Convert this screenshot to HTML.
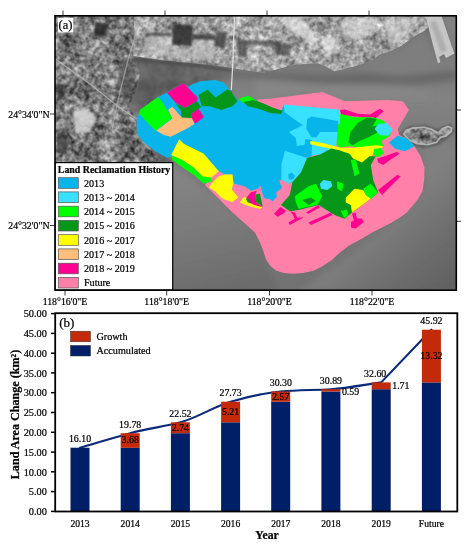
<!DOCTYPE html>
<html><head><meta charset="utf-8"><title>Land Reclamation History</title>
<style>
html,body{margin:0;padding:0;background:#fff;}
svg{display:block;}
text{font-family:"Liberation Serif","Times New Roman",serif;fill:#000;stroke:#000;stroke-width:0.22px;}
.t10{font-size:10.1px;}
.ax{font-size:9.8px;}
.t11{font-size:10.8px;}
.yt{font-size:10.3px;}
.xt{font-size:9.6px;}
.bl{font-size:9.9px;}
.il{font-size:9.9px;}
.lg{font-size:10.2px;}
.t12{font-size:12.5px;}
.b{font-weight:bold;}
</style></head><body>
<svg width="472" height="550" viewBox="0 0 472 550">
<defs>
<clipPath id="mapclip"><rect x="55" y="15.8" width="401.3" height="274.4"/></clipPath>
<filter id="tex" x="0" y="0" width="100%" height="100%" color-interpolation-filters="sRGB">
<feTurbulence type="fractalNoise" baseFrequency="0.05" numOctaves="2" seed="7"/>
<feColorMatrix type="matrix" values="0.6 0 0 0 0  0.6 0 0 0 0  0.6 0 0 0 0  0 0 0 0 1" result="n1"/>
<feTurbulence type="fractalNoise" baseFrequency="0.2" numOctaves="2" seed="21"/>
<feColorMatrix type="matrix" values="0.75 0 0 0 0  0.75 0 0 0 0  0.75 0 0 0 0  0 0 0 0 1" result="n2"/>
<feComposite in="n1" in2="n2" operator="arithmetic" k1="0" k2="1" k3="1" k4="-0.195" result="m"/>
<feComposite in="m" in2="SourceAlpha" operator="in"/>
</filter>
<filter id="texl" x="0" y="0" width="100%" height="100%" color-interpolation-filters="sRGB">
<feTurbulence type="fractalNoise" baseFrequency="0.06" numOctaves="2" seed="11"/>
<feColorMatrix type="matrix" values="0.5 0 0 0 0  0.5 0 0 0 0  0.5 0 0 0 0  0 0 0 0 1" result="n1"/>
<feTurbulence type="fractalNoise" baseFrequency="0.22" numOctaves="2" seed="5"/>
<feColorMatrix type="matrix" values="0.6 0 0 0 0  0.6 0 0 0 0  0.6 0 0 0 0  0 0 0 0 1" result="n2"/>
<feComposite in="n1" in2="n2" operator="arithmetic" k1="0" k2="1" k3="1" k4="0.09" result="m"/>
<feComposite in="m" in2="SourceAlpha" operator="in"/>
</filter>
<filter id="texd" x="0" y="0" width="100%" height="100%" color-interpolation-filters="sRGB">
<feTurbulence type="fractalNoise" baseFrequency="0.05" numOctaves="2" seed="3"/>
<feColorMatrix type="matrix" values="0.2 0 0 0 0  0.2 0 0 0 0  0.2 0 0 0 0  0 0 0 0 1" result="n1"/>
<feTurbulence type="fractalNoise" baseFrequency="0.22" numOctaves="2" seed="9"/>
<feColorMatrix type="matrix" values="0.12 0 0 0 0  0.12 0 0 0 0  0.12 0 0 0 0  0 0 0 0 1" result="n2"/>
<feComposite in="n1" in2="n2" operator="arithmetic" k1="0" k2="1" k3="1" k4="0.23" result="m"/>
<feComposite in="m" in2="SourceAlpha" operator="in"/>
</filter>

<filter id="blur05"><feGaussianBlur stdDeviation="0.5"/></filter>
<filter id="blur1"><feGaussianBlur stdDeviation="1"/></filter>
<filter id="blur3"><feGaussianBlur stdDeviation="3"/></filter>
<linearGradient id="wlr" gradientUnits="userSpaceOnUse" x1="385" y1="215" x2="450" y2="290"><stop offset="0" stop-color="#808080"/><stop offset="0.45" stop-color="#707070"/><stop offset="1" stop-color="#606060"/></linearGradient>
<linearGradient id="wll" gradientUnits="userSpaceOnUse" x1="185" y1="170" x2="215" y2="290"><stop offset="0" stop-color="#858585"/><stop offset="0.5" stop-color="#7a7a7a"/><stop offset="1" stop-color="#6c6c6c"/></linearGradient>
<linearGradient id="water" x1="0" y1="0" x2="0" y2="1">
<stop offset="0" stop-color="#6c6c6c"/><stop offset="0.3" stop-color="#828282"/><stop offset="0.5" stop-color="#7a7a7a"/><stop offset="1" stop-color="#727272"/>
</linearGradient>
</defs>
<rect width="472" height="550" fill="#fff"/>
<!-- ============ (a) map ============ -->
<g clip-path="url(#mapclip)">
<rect x="54" y="15" width="404" height="276" fill="url(#water)"/>
<!-- water tone variations -->
<g filter="url(#blur3)">
<polygon fill="#646464" points="133,57 160,60 200,63 222,67 224,82 215,80 200,81 190,85 183,83 167,92 157,97 140,109 134,112 128,106 135,93 140,74"/>
<polygon fill="#868686" points="255,78 300,80 350,84 400,88 430,92 430,100 400,100 345,100 322,91 270,98 257,99"/>
<polygon fill="#686868" points="200,70 322,75 420,70 456,60 456,80 420,84 322,84 250,78 200,76"/>
<polygon fill="#7e7e7e" points="370,58 400,48 425,32 436,62 456,55 456,70 400,76 360,72"/>
<polygon fill="#828282" points="440,12 460,12 460,56 452,50"/>
<polygon fill="url(#wlr)" points="420,150 460,140 460,294 296,294 340,262 382,232 410,210 426,186"/>
<polygon fill="url(#wll)" points="165,160 215,195 255,235 266,262 280,294 165,294"/>
</g>
<g filter="url(#blur1)"><polygon filter="url(#texd)" fill="#666" points="133,57 160,60 200,63 212,66 214,80 200,82 190,86 183,84 167,93 157,98 140,110 134,113 128,106 135,93 140,74"/></g>
<polygon filter="url(#texd)" fill="#666" points="136,118 137,131 139,137 150,148 168,158 172,162 172,175 150,175 125,165"/>
<!-- left land -->
<polygon filter="url(#tex)" fill="#888" points="54,15 136,15 133.4,55.3 139.8,74.4 135,93.4 128.7,106.2 135,115.7 137,131 139,137 150,148 160,160 120,170 54,170"/>
<!-- top land -->
<polygon filter="url(#texl)" fill="#aaa" points="134,15 426,15 428.5,27 424,31 414.2,36.2 401.4,45.8 388.7,52.1 380.8,53.7 369.7,61.7 353.8,66.4 334.7,71.2 322,64.8 317,63.3 295,64.8 282,68 263,72.8 241,69.6 222,66.4 190,63 160,60 133.4,56"/>
<polygon filter="url(#blur05)" fill="#c6c6c6" points="425.3,15 441.2,15 452,47 454.5,53.5 446,58 444,54 439,57 440.5,62 438,63.3 433.2,45.8"/>
<polygon filter="url(#blur1)" fill="#a4a4a4" opacity=".7" points="430,22 436,21 447,50 441,53"/>
<g filter="url(#blur1)">
<!-- dark patches -->
<rect x="95" y="23" width="11" height="13" fill="#2a2a2a" opacity=".85"/>
<polygon fill="#2c2c2c" opacity=".85" points="173,24 193,25 192,46 172,45"/>
<polygon fill="#3a3a3a" opacity=".8" points="193,34 215,35 215,40 193,39.5"/>
<polygon fill="#444" opacity=".75" points="145,32.5 171,33 171,36.5 145,36"/>
<polygon fill="#3c3c3c" opacity=".8" points="217,31 227,32 224,48 214,46"/>
<polygon fill="#c4c4c4" opacity=".55" points="144,37 170,37 170,57 144,55"/>
<polygon fill="#c8c8c8" opacity=".6" points="194,40.5 214,41 213,61 193,59"/>
<polygon fill="#b8b8b8" opacity=".5" points="172,47 192,48 192,59 172,58"/>
<polygon fill="#4a4a4a" opacity=".7" points="133,57.5 160,60.5 200,64 232,69 232,72 200,68 160,64 134,61"/>
<polygon fill="#3e3e3e" opacity=".7" points="238,40 247,40 247,58 238,57"/>
<polygon fill="#444" opacity=".7" points="247,40 279,41 279,46 247,45"/>
<polygon fill="#444" opacity=".65" points="274,43 290,44 290,56 276,55"/>
<rect x="57" y="84" width="7" height="16" fill="#333" opacity=".7"/>
<rect x="57" y="135" width="10" height="18" fill="#3a3a3a" opacity=".7"/>
<polygon fill="#555" opacity=".6" points="120,60 132,58 136,74 131,92 124,100 118,88"/>
<!-- bright patches -->
<polygon fill="#e0e0e0" opacity=".75" points="73,112 86,108 96,118 90,132 76,134"/>
<polygon fill="#e8e8e8" opacity=".6" points="280,17 300,17 318,40 312,44 290,30"/>
<polygon fill="#e8e8e8" opacity=".55" points="322,38 334,36 338,52 326,56"/>
<polygon fill="#e0e0e0" opacity=".5" points="340,20 380,18 372,34 346,40"/>
<polygon fill="#ddd" opacity=".5" points="384,22 418,18 410,34 390,46"/>
</g>
<polyline fill="none" stroke="#e0e0e0" stroke-width="1.2" points="234.5,15 233,60 231.3,90"/>
<polyline fill="none" stroke="#b8b8b8" stroke-width="1.3" opacity=".8" points="54,58 90,84 120,108 137,119"/>
<polyline fill="none" stroke="#b0b0b0" stroke-width="1.2" opacity=".7" points="140,20 128,60 118,100 112,130"/>
<!-- island -->
<path filter="url(#blur1)" fill="#5e5e5e" d="M400,134 L409,126 L426,125 L437,129 L450,124 L455,131 L447,139 L438,145 L424,148 L410,145 Z"/>
<path filter="url(#blur05)" fill="#b4b4b4" d="M402.5,134 L406,129.5 L413,127 L424,126.5 L432,128.5 L438,132 L442,128 L448,125.5 L452.5,127.5 L452,132 L446,137 L441,138 L437,143 L428,145.5 L417,144.5 L409,141 Z"/>
<path filter="url(#tex)" fill="#888" d="M404.5,134 L407,131 L413.5,128.5 L424,128 L431,130 L436.5,133.5 L442.5,130 L448,127.5 L450.5,128.5 L450,131.5 L445,135.5 L440,136.5 L436,141.5 L428,143.8 L417.5,143 L410,139.8 Z"/>
<polygon fill="#ff80a8" points="257.5,99.5 270.0,98.8 322.5,92.0 345.0,101.2 388.0,100.0 402.8,101.2 409.0,110.0 397.8,128.8 399.0,135.0 407.8,138.8 414.5,146.2 420.5,156.0 424.5,167.5 424.3,178.0 422.5,191.2 417.0,200.5 407.1,212.2 400.0,217.4 390.3,223.3 372.7,232.2 356.8,241.5 349.0,245.6 340.0,252.5 331.2,260.4 322.0,266.5 313.4,270.8 303.0,273.0 292.6,273.8 284.0,273.0 276.3,270.8 270.0,265.5 265.9,258.9 263.0,250.0 260.0,242.6 255.0,232.5 232.5,212.5 210.0,190.0 205.0,185.0 215.0,170.0 250.0,150.0 260.0,120.0"/>
<polygon fill="#08b5ea" points="158.0,97.0 166.4,92.7 183.4,83.0 188.0,87.0 192.0,84.5 200.5,81.2 215.0,80.0 223.8,82.5 231.2,91.2 237.5,100.0 245.0,102.5 257.5,107.5 270.0,112.5 280.0,113.8 283.8,105.0 300.0,110.0 312.0,140.0 312.0,156.0 307.0,158.0 301.0,172.5 292.5,181.4 288.5,183.5 281.4,179.6 279.2,180.4 282.1,187.8 276.2,192.3 276.9,196.7 272.5,201.2 269.5,198.9 264.3,198.2 262.1,192.3 260.6,185.6 258.4,188.5 251.0,190.8 244.3,186.3 233.2,183.4 232.4,174.5 225.0,174.5 218.8,171.2 200.0,165.0 170.7,156.3 167.3,158.0 155.4,151.2 144.4,142.7 138.5,136.0 136.8,130.8 136.8,119.0 140.2,110.5"/>
<polygon fill="#08b5ea" points="389.0,142.5 397.8,135.5 407.8,138.8 414.5,146.2 405.2,151.2 395.2,148.8"/>
<polygon fill="#38e1ff" points="283.8,104.5 340.0,109.7 340.8,123.5 338.2,124.4 336.5,145.1 331.3,148.5 320.1,154.6 311.5,155.4 312.3,139.9 305.4,139.0 304.5,145.1 296.8,146.0 295.9,138.2 289.0,132.1 302.8,125.2 284.7,112.3"/>
<polygon fill="#38e1ff" points="285.0,150.8 307.1,158.0 301.0,172.5 292.5,181.4 288.5,183.5 281.4,179.6 281.5,164.1"/>
<polygon fill="#08b5ea" points="307.1,119.2 311.5,116.6 338.2,120.9 338.2,132.1 320.1,132.1 316.6,137.3 311.5,137.3 306.3,128.7"/>
<polygon fill="#08b5ea" points="288.1,174.0 292.0,172.5 295.0,176.0 293.0,179.6 289.0,179.6"/>
<polygon fill="#06961a" points="198.5,95.0 207.5,89.5 215.5,97.5 227.5,89.2 231.2,91.2 237.5,101.2 232.5,106.2 221.2,110.0 210.0,106.2 201.8,106.2"/>
<polygon fill="#00ff00" points="238.5,99.0 243.0,97.0 248.8,96.0 257.5,101.2 252.0,103.5 244.0,103.5"/>
<polygon fill="#06961a" points="243.5,102.0 253.5,100.0 262.5,103.0 272.5,107.5 282.5,110.8 281.2,113.9 270.0,113.0 258.5,108.8 247.5,106.2"/>
<polygon fill="#00ff00" points="140.2,109.7 157.1,97.8 159.7,98.6 172.4,118.1 155.4,130.8 139.3,113.9"/>
<polygon fill="#ff0090" points="167.0,92.7 183.4,83.0 197.8,97.8 197.0,101.2 185.1,108.0 175.8,102.9"/>
<polygon fill="#ffbe7d" points="168.1,109.7 172.4,106.8 180.8,116.4 191.9,118.1 194.4,124.1 187.6,128.3 170.7,136.8 163.9,135.1 156.3,130.8 172.4,118.6"/>
<polygon fill="#06961a" points="175.8,103.7 185.1,108.0 197.0,101.2 201.2,107.1 191.0,113.9 191.9,118.1 181.7,117.6 180.8,110.5"/>
<polygon fill="#ff0090" points="191.0,113.9 198.6,108.8 204.0,117.0 195.3,123.7 191.9,118.1"/>
<polygon fill="#00ff00" points="171.2,155.0 182.5,160.0 193.8,167.5 202.5,176.2 211.2,177.5 212.5,181.2 203.8,183.8 193.8,175.0 182.5,167.5 172.5,160.0"/>
<polygon fill="#ffff00" points="179.2,139.3 183.8,143.8 203.8,153.8 218.8,171.2 211.2,177.5 202.5,176.2 193.8,167.5 182.5,160.0 171.2,155.0 175.0,147.5"/>
<polygon fill="#ffff00" points="211.2,183.8 218.8,176.2 225.0,174.5 232.4,174.5 233.5,183.4 231.7,189.5 238.4,197.6 232.4,201.9 225.0,199.7 221.2,197.5 215.0,191.2 208.8,187.5"/>
<polygon fill="#ffff00" points="239.8,201.9 244.3,196.7 246.5,197.4 247.3,201.9 254.7,204.9 262.1,207.1 260.6,208.9 251.7,207.1 242.8,204.1"/>
<polygon fill="#ff0090" points="246.5,197.4 251.0,192.3 256.9,190.8 255.4,194.5 256.2,201.9 262.1,207.1 254.7,204.9 248.7,201.9"/>
<polygon fill="#06961a" points="255.4,194.5 259.9,193.7 262.8,207.1 256.2,201.9"/>
<polygon fill="#06961a" points="245.8,198.2 248.7,198.9 251.0,203.4 247.3,201.9"/>
<polygon fill="#ff0090" points="340.0,110.0 345.0,109.5 357.5,113.8 370.0,114.5 380.0,108.8 383.8,111.2 375.0,118.8 365.0,117.5 352.5,116.2 341.2,114.5"/>
<polygon fill="#00ff00" points="340.0,123.8 340.2,113.8 354.4,117.2 373.0,117.2 383.2,120.6 391.7,129.0 390.0,135.8 381.5,141.0 383.2,146.0 379.8,151.0 359.5,147.5 349.5,146.2 339.5,147.5 336.5,145.1 338.2,124.4"/>
<polygon fill="#06961a" points="348.3,142.6 350.3,132.5 357.8,123.0 367.3,117.5 376.8,118.9 372.4,126.4 380.8,125.0 378.8,131.8 370.0,136.5 359.5,140.9 352.7,145.3"/>
<polygon fill="#38e1ff" points="378.1,124.0 386.6,123.0 392.7,129.7 388.3,135.8 379.8,135.2 374.7,129.0"/>
<polygon fill="#ffff00" points="310.3,140.9 320.5,142.6 340.8,147.7 354.4,147.7 374.7,145.3 383.2,146.0 379.8,151.0 373.0,154.5 366.3,163.0 359.5,164.7 352.7,157.9 340.8,151.1 310.3,144.3"/>
<polygon fill="#00ff00" points="374.0,149.0 381.0,148.0 384.0,153.0 378.0,157.5 373.0,154.5"/>
<polygon fill="#06961a" points="307.1,158.0 320.1,154.6 331.3,148.5 339.1,150.3 349.5,153.8 353.2,158.8 362.0,162.5 369.5,156.2 375.8,156.2 370.8,165.0 373.2,180.0 378.2,192.5 370.8,198.8 352.0,212.5 344.5,218.8 334.5,215.0 318.5,205.0 298.5,210.0 289.8,211.2 281.0,205.0 289.8,195.0 292.2,182.5 301.0,172.5"/>
<polygon fill="#00ff00" points="294.8,196.2 308.5,186.2 316.0,183.8 322.2,196.2 317.2,205.0 298.5,208.8 296.0,202.5"/>
<polygon fill="#06961a" points="302.0,200.0 311.0,197.5 316.0,201.0 308.5,205.0"/>
<polygon fill="#38e1ff" points="319.8,183.8 323.5,180.0 331.0,181.2 332.2,186.2 327.2,190.0 321.0,188.8"/>
<polygon fill="#00ff00" points="337.2,181.2 343.5,183.8 342.2,191.2 337.2,188.8"/>
<polygon fill="#00ff00" points="350.8,160.0 355.8,159.5 359.5,173.8 354.5,176.2"/>
<polygon fill="#00ff00" points="363.2,188.8 370.8,183.8 378.2,192.5 370.8,198.8 365.8,195.0"/>
<polygon fill="#ffff00" points="345.8,197.5 354.5,188.8 363.2,190.0 365.8,195.0 370.8,198.8 352.0,212.5 350.8,205.0 345.8,202.5"/>
<polygon fill="#00ff00" points="340.8,211.2 347.0,209.5 348.2,213.8 343.2,215.0"/>
<polygon fill="#00ff00" points="341.0,210.0 348.5,215.0 344.0,218.0"/>
<polygon fill="#ff0090" points="274.0,213.8 280.6,207.1 285.8,210.8 284.3,213.0 277.7,216.7"/>
<polygon fill="#ff0090" points="289.8,211.2 294.8,212.5 297.2,217.5 303.5,217.5 289.8,225.0 288.5,222.5 294.8,218.8 292.2,213.8"/>
<polygon fill="#ff0090" points="306.0,212.5 318.5,205.0 319.8,207.5 308.5,213.8"/>
<polygon fill="#ff0090" points="308.5,222.5 331.0,212.5 332.2,215.0 311.0,225.0"/>
<polygon fill="#ff0090" points="377.0,158.8 397.0,152.0 399.5,153.8 388.2,161.2 383.2,165.0 378.2,162.5"/>
<polygon fill="#ff0090" points="378.2,190.0 397.0,175.0 400.8,176.2 382.0,195.0"/>
<polygon fill="#ff0090" points="352.0,213.5 355.5,212.5 357.0,218.5 361.5,218.5 364.0,222.0 355.5,228.5 351.0,227.5 351.0,222.0 354.0,220.5"/>
</g>
<rect x="55" y="15.8" width="401.3" height="274.4" fill="none" stroke="#000" stroke-width="1.6"/>
<!-- map ticks -->
<g stroke="#1a1a1a" stroke-width="0.85">
<line x1="63" y1="10.5" x2="63" y2="15"/><line x1="165" y1="10.5" x2="165" y2="15"/><line x1="267" y1="10.5" x2="267" y2="15"/><line x1="369" y1="10.5" x2="369" y2="15"/>
<line x1="65" y1="291" x2="65" y2="295.5"/><line x1="166.7" y1="291" x2="166.7" y2="295.5"/><line x1="269.5" y1="291" x2="269.5" y2="295.5"/><line x1="372" y1="291" x2="372" y2="295.5"/>
<line x1="50" y1="114" x2="54.5" y2="114"/><line x1="50" y1="225.5" x2="54.5" y2="225.5"/>
<line x1="457" y1="110" x2="461" y2="110"/><line x1="457" y1="221.3" x2="461" y2="221.3"/>
</g>
<text x="49.5" y="117.5" text-anchor="end" class="ax">24°34'0"N</text>
<text x="49.5" y="229" text-anchor="end" class="ax">24°32'0"N</text>
<text x="65" y="304.6" text-anchor="middle" class="ax">118°16'0"E</text>
<text x="166.7" y="304.6" text-anchor="middle" class="ax">118°18'0"E</text>
<text x="269.5" y="304.6" text-anchor="middle" class="ax">118°20'0"E</text>
<text x="372" y="304.6" text-anchor="middle" class="ax">118°22'0"E</text>
<!-- (a) label -->
<rect x="57.8" y="17.8" width="15.6" height="14.6" fill="#fff"/>
<text x="58.6" y="29.3" class="t12">(a)</text>
<!-- map legend -->
<rect x="55.3" y="162.6" width="117.4" height="127.2" fill="#fff" stroke="#000" stroke-width="1.2"/>
<text x="57.8" y="173.2" class="b" style="font-size:9.9px">Land Reclamation History</text>
<rect x="58.3" y="177.7" width="20" height="10.6" fill="#08b5ea" stroke="#555" stroke-width="0.7"/><text x="84" y="186.5" class="t10">2013</text><rect x="58.3" y="191.9" width="20" height="10.6" fill="#38e1ff" stroke="#555" stroke-width="0.7"/><text x="84" y="200.8" class="t10">2013 ~ 2014</text><rect x="58.3" y="206.2" width="20" height="10.6" fill="#00ff00" stroke="#555" stroke-width="0.7"/><text x="84" y="215.0" class="t10">2014 ~ 2015</text><rect x="58.3" y="220.4" width="20" height="10.6" fill="#06961a" stroke="#555" stroke-width="0.7"/><text x="84" y="229.2" class="t10">2015 ~ 2016</text><rect x="58.3" y="234.7" width="20" height="10.6" fill="#ffff00" stroke="#555" stroke-width="0.7"/><text x="84" y="243.5" class="t10">2016 ~ 2017</text><rect x="58.3" y="248.9" width="20" height="10.6" fill="#ffbe7d" stroke="#555" stroke-width="0.7"/><text x="84" y="257.8" class="t10">2017 ~ 2018</text><rect x="58.3" y="263.2" width="20" height="10.6" fill="#ff0090" stroke="#555" stroke-width="0.7"/><text x="84" y="272.0" class="t10">2018 ~ 2019</text><rect x="58.3" y="277.4" width="20" height="10.6" fill="#ff80a8" stroke="#555" stroke-width="0.7"/><text x="84" y="286.2" class="t10">Future</text>
<!-- ============ (b) chart ============ -->
<path fill="none" stroke="#0a2a78" stroke-width="2.1" stroke-linejoin="round" stroke-linecap="round" d="M80.0,447.7 C96.7,442.9 113.4,437.7 130.2,433.2 C146.9,428.6 163.6,426.8 180.4,422.3 C197.1,417.8 213.8,406.6 230.6,401.7 C247.3,396.8 264.0,393.1 280.8,391.5 C297.5,390.0 314.2,390.2 330.9,389.2 C347.7,388.2 364.4,384.7 381.2,382.4 C397.9,364.9 414.6,347.3 431.4,329.7"/>
<rect x="70.5" y="447.7" width="19" height="63.7" fill="#001f66"/><rect x="120.7" y="447.7" width="19" height="63.7" fill="#001f66"/><rect x="120.7" y="433.2" width="19" height="14.6" fill="#c22a0a"/><rect x="170.9" y="433.2" width="19" height="78.2" fill="#001f66"/><rect x="170.9" y="422.3" width="19" height="10.8" fill="#c22a0a"/><rect x="221.1" y="422.3" width="19" height="89.1" fill="#001f66"/><rect x="221.1" y="401.7" width="19" height="20.6" fill="#c22a0a"/><rect x="271.2" y="401.7" width="19" height="109.7" fill="#001f66"/><rect x="271.2" y="391.5" width="19" height="10.2" fill="#c22a0a"/><rect x="321.4" y="391.5" width="19" height="119.9" fill="#001f66"/><rect x="321.4" y="389.2" width="19" height="2.3" fill="#c22a0a"/><rect x="371.7" y="389.2" width="19" height="122.2" fill="#001f66"/><rect x="371.7" y="382.4" width="19" height="6.8" fill="#c22a0a"/><rect x="421.9" y="382.4" width="19" height="129.0" fill="#001f66"/><rect x="421.9" y="329.7" width="19" height="52.7" fill="#c22a0a"/>
<rect x="55.2" y="313.2" width="402.1" height="198.3" fill="none" stroke="#000" stroke-width="1.8"/>
<line x1="51" x2="55" y1="511.4" y2="511.4" stroke="#000" stroke-width="1.5"/><text x="46.9" y="515.1" text-anchor="end" class="yt">0.00</text><line x1="51" x2="55" y1="491.6" y2="491.6" stroke="#000" stroke-width="1.5"/><text x="46.9" y="495.3" text-anchor="end" class="yt">5.00</text><line x1="51" x2="55" y1="471.8" y2="471.8" stroke="#000" stroke-width="1.5"/><text x="46.9" y="475.5" text-anchor="end" class="yt">10.00</text><line x1="51" x2="55" y1="452.1" y2="452.1" stroke="#000" stroke-width="1.5"/><text x="46.9" y="455.8" text-anchor="end" class="yt">15.00</text><line x1="51" x2="55" y1="432.3" y2="432.3" stroke="#000" stroke-width="1.5"/><text x="46.9" y="436.0" text-anchor="end" class="yt">20.00</text><line x1="51" x2="55" y1="412.5" y2="412.5" stroke="#000" stroke-width="1.5"/><text x="46.9" y="416.2" text-anchor="end" class="yt">25.00</text><line x1="51" x2="55" y1="392.7" y2="392.7" stroke="#000" stroke-width="1.5"/><text x="46.9" y="396.4" text-anchor="end" class="yt">30.00</text><line x1="51" x2="55" y1="372.9" y2="372.9" stroke="#000" stroke-width="1.5"/><text x="46.9" y="376.6" text-anchor="end" class="yt">35.00</text><line x1="51" x2="55" y1="353.2" y2="353.2" stroke="#000" stroke-width="1.5"/><text x="46.9" y="356.9" text-anchor="end" class="yt">40.00</text><line x1="51" x2="55" y1="333.4" y2="333.4" stroke="#000" stroke-width="1.5"/><text x="46.9" y="337.1" text-anchor="end" class="yt">45.00</text><line x1="51" x2="55" y1="313.6" y2="313.6" stroke="#000" stroke-width="1.5"/><text x="46.9" y="317.3" text-anchor="end" class="yt">50.00</text>
<text x="80.0" y="527" text-anchor="middle" class="xt">2013</text><text x="130.2" y="527" text-anchor="middle" class="xt">2014</text><text x="180.4" y="527" text-anchor="middle" class="xt">2015</text><text x="230.6" y="527" text-anchor="middle" class="xt">2016</text><text x="280.8" y="527" text-anchor="middle" class="xt">2017</text><text x="330.9" y="527" text-anchor="middle" class="xt">2018</text><text x="381.2" y="527" text-anchor="middle" class="xt">2019</text><text x="431.4" y="527" text-anchor="middle" class="xt">Future</text>
<text x="80.0" y="442.2" text-anchor="middle" class="bl">16.10</text><text x="130.2" y="427.7" text-anchor="middle" class="bl">19.78</text><text x="180.4" y="416.8" text-anchor="middle" class="bl">22.52</text><text x="230.6" y="396.2" text-anchor="middle" class="bl">27.73</text><text x="280.8" y="386.0" text-anchor="middle" class="bl">30.30</text><text x="330.9" y="383.7" text-anchor="middle" class="bl">30.89</text><text x="375.2" y="376.9" text-anchor="middle" class="bl">32.60</text><text x="431.4" y="324.2" text-anchor="middle" class="bl">45.92</text><text x="130.2" y="443.3" text-anchor="middle" class="il">3.68</text><text x="180.4" y="430.6" text-anchor="middle" class="il">2.74</text><text x="230.6" y="414.9" text-anchor="middle" class="il">5.21</text><text x="280.8" y="399.5" text-anchor="middle" class="il">2.57</text><text x="431.4" y="359.0" text-anchor="middle" class="il">13.32</text><text x="341.9" y="395.2" class="il">0.59</text><text x="392.2" y="389.4" class="il">1.71</text>
<text x="59.2" y="326.6" style="font-size:13.1px">(b)</text>
<rect x="70.5" y="331.2" width="20" height="10.6" fill="#c22a0a" stroke="#333" stroke-width="0.5"/>
<rect x="70.5" y="345.4" width="20" height="10.6" fill="#001f66" stroke="#333" stroke-width="0.5"/>
<text x="96.4" y="340" class="lg">Growth</text>
<text x="96.4" y="354.3" class="lg">Accumulated</text>
<text x="267" y="538.5" text-anchor="middle" class="b" style="font-size:11.7px">Year</text>
<text transform="translate(18.8,414.5) rotate(-90)" text-anchor="middle" class="b" style="font-size:12.1px">Land Area Change (km²)</text>
</svg>
</body></html>
